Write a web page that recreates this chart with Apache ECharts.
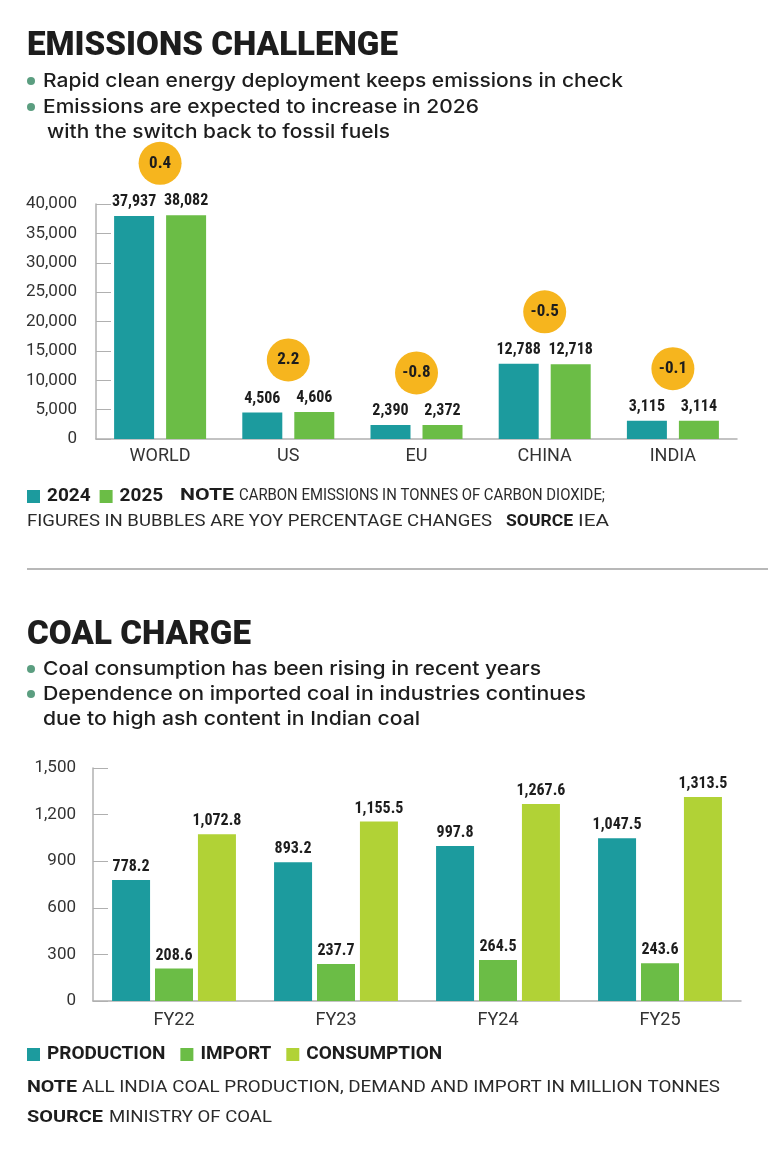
<!DOCTYPE html>
<html>
<head>
<meta charset="utf-8">
<script src="https://cdn.jsdelivr.net/npm/echarts@6/dist/echarts.min.js"></script>
<style>
  html, body { margin: 0; padding: 0; background: #fff; }
  #main { width: 768px; height: 1160px; }
</style>
</head>
<body>
<div id="main"></div>
<script>
// emissions chart data
var regions = ['WORLD', 'US', 'EU', 'CHINA', 'INDIA'];
var emissions2024 = [37937, 4506, 2390, 12788, 3115];
var emissions2025 = [38082, 4606, 2372, 12718, 3114];
var yoyChange = [0.4, 2.2, -0.8, -0.5, -0.1];

// coal chart data
var fiscalYears = ['FY22', 'FY23', 'FY24', 'FY25'];
var production = [778.2, 893.2, 997.8, 1047.5];
var imports = [208.6, 237.7, 264.5, 243.6];
var consumption = [1072.8, 1155.5, 1267.6, 1313.5];

var TEAL = '#1c9b9e';
var GREEN = '#6bbd46';
var LIME = '#b1d236';
var BUBBLE = '#f6b51e';
var INK = '#1d1d1d';
var AXIS = '#b0b0b0';

var valueFamily = '"Liberation Sans Narrow", "Roboto Condensed", "DejaVu Sans Condensed", Roboto, sans-serif';
var axisFamily = 'Roboto, "Liberation Sans", sans-serif';

// text measuring so each text block can be squeezed to the width it has in the print
var ctx = document.createElement('canvas').getContext('2d');
function textWidth(str, font) {
    ctx.font = font;
    return ctx.measureText(str).width;
}

function fitText(str, x0, x1, y, font, color) {
    var w = textWidth(str, font);
    return {
        type: 'text',
        x: x0,
        y: y,
        scaleX: (x1 - x0) / w,
        style: {
            text: str,
            font: font,
            fill: color || INK,
            verticalAlign: 'middle'
        },
        z: 10
    };
}

function bullet(y) {
    return {
        type: 'circle',
        shape: { cx: 31, cy: y, r: 4 },
        style: { fill: '#5b9e80' },
        z: 10
    };
}

var titleFont = '900 34px Roboto, "DejaVu Sans", sans-serif';
var bulletFont = '500 19px Inter, "Noto Sans", sans-serif';
var noteBold = 'bold 17px Roboto, "Liberation Sans", sans-serif';
var noteReg = '17px Roboto, "Liberation Sans", sans-serif';

var graphics = [
    fitText('EMISSIONS CHALLENGE', 27, 398, 46, titleFont),
    bullet(81),
    fitText('Rapid clean energy deployment keeps emissions in check', 43, 623, 81, bulletFont),
    bullet(107),
    fitText('Emissions are expected to increase in 2026', 43, 479, 107, bulletFont),
    fitText('with the switch back to fossil fuels', 47, 390, 132, bulletFont),

    fitText('NOTE', 180, 234, 496, noteBold),
    fitText('CARBON EMISSIONS IN TONNES OF CARBON DIOXIDE;', 239, 605, 496, noteReg, '#2a2a2a'),
    fitText('FIGURES IN BUBBLES ARE YOY PERCENTAGE CHANGES', 27, 492, 522, noteReg, '#2a2a2a'),
    fitText('SOURCE', 506, 573, 522, noteBold),
    fitText('IEA', 578, 609, 522, noteReg, '#2a2a2a'),

    {
        type: 'line',
        shape: { x1: 27, y1: 569, x2: 768, y2: 569 },
        style: { stroke: '#a0a0a0', lineWidth: 1.5 }
    },

    fitText('COAL CHARGE', 27, 251, 635, titleFont),
    bullet(669),
    fitText('Coal consumption has been rising in recent years', 43, 541, 669, bulletFont),
    bullet(694),
    fitText('Dependence on imported coal in industries continues', 43, 586, 694, bulletFont),
    fitText('due to high ash content in Indian coal', 43, 420, 719, bulletFont),

    fitText('NOTE', 27, 77, 1088, noteBold),
    fitText('ALL INDIA COAL PRODUCTION, DEMAND AND IMPORT IN MILLION TONNES', 82, 720, 1088, noteReg, '#2a2a2a'),
    fitText('SOURCE', 27, 103, 1118, noteBold),
    fitText('MINISTRY OF COAL', 109, 272, 1118, noteReg, '#2a2a2a')
];

function barLabel(distance, decimals) {
    return {
        show: true,
        position: 'top',
        distance: distance,
        fontFamily: valueFamily,
        fontWeight: 'bold',
        fontSize: 16,
        color: INK,
        formatter: function (p) {
            return p.value.toLocaleString('en-US', {
                minimumFractionDigits: decimals,
                maximumFractionDigits: decimals
            });
        }
    };
}

var legendText = {
    fontFamily: 'Roboto, "Liberation Sans", sans-serif',
    fontWeight: 'bold',
    fontSize: 19,
    color: INK,
    padding: [0, 0, 0, 2]
};

var chart = echarts.init(document.getElementById('main'), null, { renderer: 'canvas' });

chart.setOption({
    backgroundColor: '#fff',
    animation: false,
    graphic: graphics,
    legend: [
        {
            data: ['2024', '2025'],
            left: 27,
            top: 487,
            padding: 0,
            icon: 'rect',
            itemWidth: 13,
            itemHeight: 13,
            itemGap: 9,
            selectedMode: false,
            textStyle: legendText
        },
        {
            data: ['PRODUCTION', 'IMPORT', 'CONSUMPTION'],
            left: 27,
            top: 1045,
            padding: 0,
            icon: 'rect',
            itemWidth: 13,
            itemHeight: 13,
            itemGap: 15,
            selectedMode: false,
            textStyle: legendText
        }
    ],
    grid: [
        { left: 96, right: 31, top: 204, bottom: 721 },
        { left: 93, right: 27, top: 768, bottom: 159 }
    ],
    xAxis: [
        {
            type: 'category',
            gridIndex: 0,
            data: regions,
            axisLine: { lineStyle: { color: AXIS, width: 1.5 } },
            axisTick: { inside: true, length: 5, lineStyle: { color: AXIS } },
            axisLabel: { fontFamily: axisFamily, fontSize: 18, color: '#333', margin: 8 }
        },
        {
            type: 'category',
            gridIndex: 1,
            data: fiscalYears,
            axisLine: { lineStyle: { color: AXIS, width: 1.5 } },
            axisTick: { inside: true, length: 5, lineStyle: { color: AXIS } },
            axisLabel: { fontFamily: axisFamily, fontSize: 18, color: '#333', margin: 10 }
        }
    ],
    yAxis: [
        {
            type: 'value',
            gridIndex: 0,
            min: 0,
            max: 40000,
            interval: 5000,
            splitLine: { show: false },
            axisLine: { show: true, lineStyle: { color: AXIS, width: 1.5 } },
            axisTick: { show: true, inside: true, length: 15, lineStyle: { color: AXIS } },
            axisLabel: {
                fontFamily: axisFamily, fontSize: 17, color: '#333', margin: 19,
                formatter: function (v) { return v.toLocaleString('en-US'); }
            }
        },
        {
            type: 'value',
            gridIndex: 1,
            min: 0,
            max: 1500,
            interval: 300,
            splitLine: { show: false },
            axisLine: { show: true, lineStyle: { color: AXIS, width: 1.5 } },
            axisTick: { show: true, inside: true, length: 15, lineStyle: { color: AXIS } },
            axisLabel: {
                fontFamily: axisFamily, fontSize: 17, color: '#333', margin: 17,
                formatter: function (v) { return v.toLocaleString('en-US'); }
            }
        }
    ],
    series: [
        {
            name: '2024',
            type: 'bar',
            xAxisIndex: 0,
            yAxisIndex: 0,
            data: emissions2024,
            barWidth: 40,
            barGap: '30%',
            itemStyle: { color: TEAL },
            label: barLabel(6, 0)
        },
        {
            name: '2025',
            type: 'bar',
            xAxisIndex: 0,
            yAxisIndex: 0,
            data: emissions2025,
            barWidth: 40,
            barGap: '30%',
            itemStyle: { color: GREEN },
            label: barLabel(6, 0)
        },
        {
            // yoy bubbles, sitting above the taller bar of each pair
            name: 'YoY change',
            type: 'scatter',
            xAxisIndex: 0,
            yAxisIndex: 0,
            z: 5,
            symbol: 'circle',
            symbolSize: 43,
            symbolOffset: [0, -52],
            itemStyle: { color: BUBBLE, opacity: 1 },
            data: regions.map(function (r, i) {
                return [i, Math.max(emissions2024[i], emissions2025[i])];
            }),
            label: {
                show: true,
                position: 'inside',
                fontFamily: valueFamily,
                fontWeight: 'bold',
                fontSize: 17,
                color: INK,
                formatter: function (p) {
                    return yoyChange[p.dataIndex].toFixed(1);
                }
            }
        },
        {
            name: 'PRODUCTION',
            type: 'bar',
            xAxisIndex: 1,
            yAxisIndex: 1,
            data: production,
            barWidth: 38,
            barGap: '13%',
            itemStyle: { color: TEAL },
            label: barLabel(5, 1)
        },
        {
            name: 'IMPORT',
            type: 'bar',
            xAxisIndex: 1,
            yAxisIndex: 1,
            data: imports,
            barWidth: 38,
            barGap: '13%',
            itemStyle: { color: GREEN },
            label: barLabel(5, 1)
        },
        {
            name: 'CONSUMPTION',
            type: 'bar',
            xAxisIndex: 1,
            yAxisIndex: 1,
            data: consumption,
            barWidth: 38,
            barGap: '13%',
            itemStyle: { color: LIME },
            label: barLabel(5, 1)
        }
    ]
});
</script>
</body>
</html>
